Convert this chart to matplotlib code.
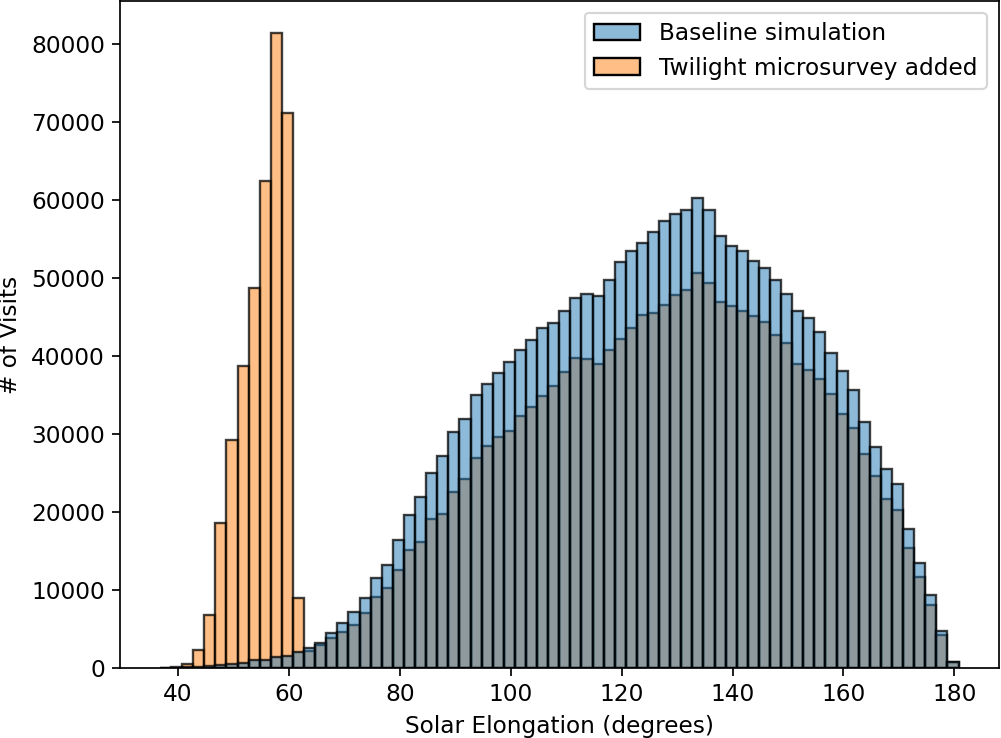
import numpy as np
import matplotlib
matplotlib.use("Agg")
import matplotlib.pyplot as plt
from matplotlib.patches import Patch

# bin left edges (2 degree bins)
bin_width = 2.0
bin_left = np.arange(36.75, 180.0, bin_width)

# visits per bin, baseline simulation
baseline = [
    20, 60, 100, 160, 270, 430, 540, 650, 1020, 1080, 1350, 1560,
    2000, 2560, 3200, 4480, 5800, 7130, 9000, 11480, 13140, 16340, 19590, 21970,
    25000, 27140, 30300, 31920, 35000, 36350, 37800, 39170, 40750, 42070, 43610, 44200,
    45780, 47360, 47960, 47620, 49710, 52050, 53420, 54490, 55850, 57300, 58240, 58670,
    60290, 58710, 55340, 54100, 53420, 52140, 51290, 49710, 47920, 45700, 44800, 43010,
    40360, 38020, 35580, 31580, 28330, 25470, 23640, 17790, 13400, 9390, 4780, 810,
]

# visits per bin, with twilight microsurvey
twilight = [
    20, 100, 540, 2300, 6740, 18600, 29200, 38700, 48700, 62400, 81400, 71100,
    8960, 2130, 2900, 3840, 4650, 5500, 7040, 9050, 10280, 12500, 15150, 16170,
    19120, 19760, 22530, 24240, 26880, 28500, 29570, 30380, 32260, 33410, 34860, 36180,
    37930, 39770, 39640, 39000, 40790, 42200, 43610, 45230, 45440, 46510, 47790, 48380,
    50650, 49320, 46850, 46380, 45700, 45060, 44330, 42670, 41640, 38960, 38190, 36990,
    35160, 32550, 30720, 27430, 24620, 21680, 20310, 15400, 11690, 8060, 4220, 750,
]

labels = ["Baseline simulation", "Twilight microsurvey added"]
colors = ["#1f77b4", "#ff7f0e"]
edge = (0, 0, 0, 0.75)

plt.rcParams["font.size"] = 10.8

dpi = 155
fig = plt.figure(figsize=(1001 / dpi, 738 / dpi), dpi=dpi)
ax = fig.add_axes([120 / 1001, 70 / 738, 878.5 / 1001, 667 / 738])

# twilight underneath, baseline on top (like seaborn hue layering)
ax.bar(bin_left, twilight, width=bin_width, align="edge",
       color=matplotlib.colors.to_rgba(colors[1], 0.5),
       edgecolor=edge, linewidth=1.1)
ax.bar(bin_left, baseline, width=bin_width, align="edge",
       color=matplotlib.colors.to_rgba(colors[0], 0.5),
       edgecolor=edge, linewidth=1.1)

ax.set_xlabel("Solar Elongation (degrees)")
ax.set_ylabel("# of Visits")

handles = [
    Patch(facecolor=matplotlib.colors.to_rgba(colors[0], 0.5), edgecolor="black",
          linewidth=1.1, label=labels[0]),
    Patch(facecolor=matplotlib.colors.to_rgba(colors[1], 0.5), edgecolor="black",
          linewidth=1.1, label=labels[1]),
]
ax.legend(handles=handles, loc="upper right")

fig.savefig("out.png", dpi=dpi)
